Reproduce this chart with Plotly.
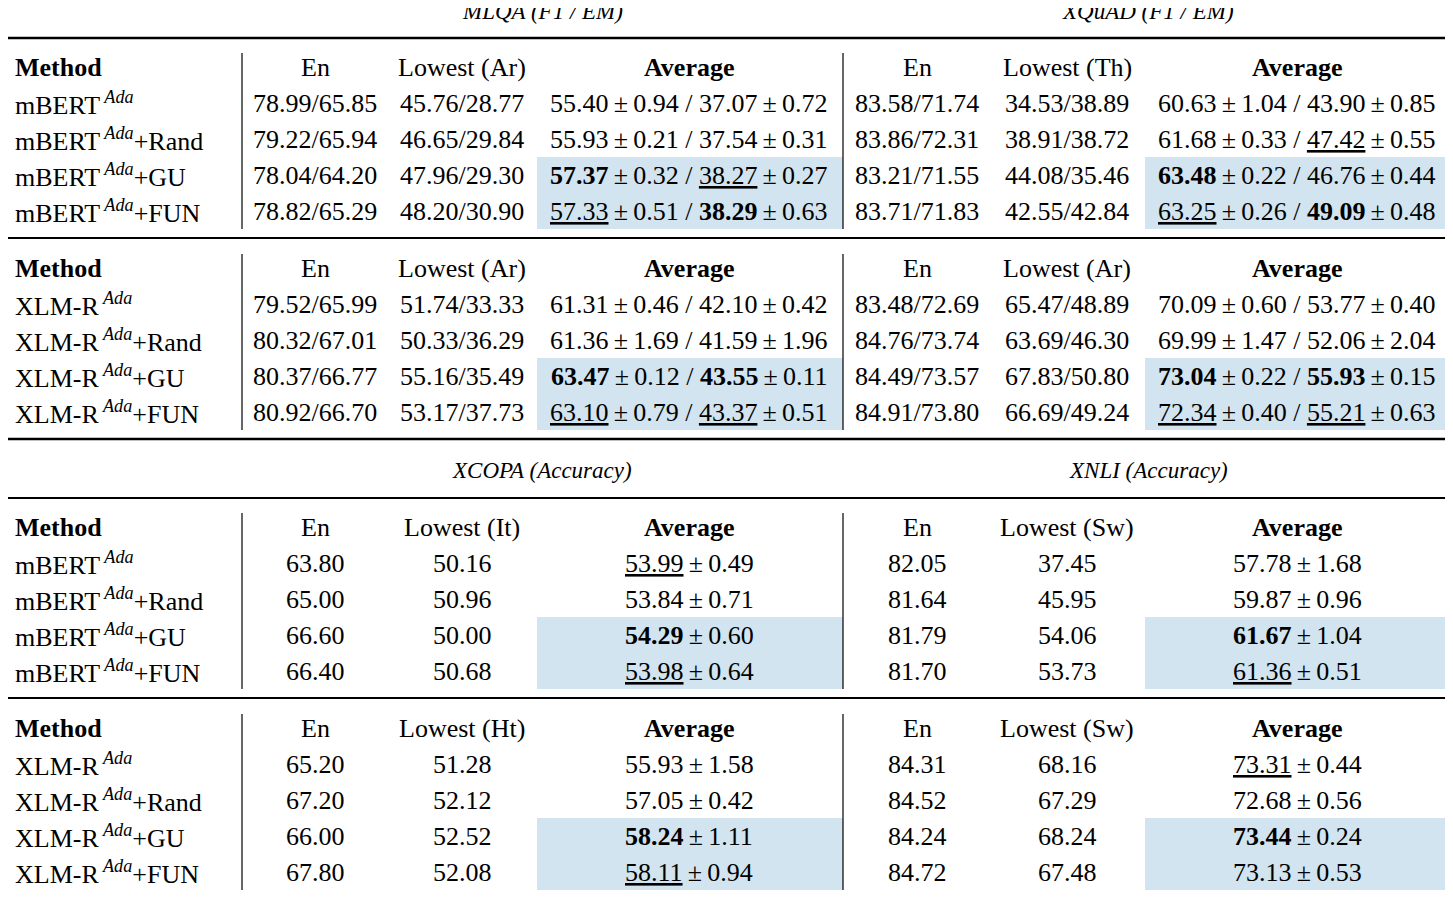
import plotly.graph_objects as go

# ---- data ----
variants = ["", "+Rand", "+GU", "+FUN"]
models = ["mBERT", "XLM-R"]

# MLQA / XQuAD (F1/EM) blocks, one per model
mlqa_en = [["78.99/65.85", "79.22/65.94", "78.04/64.20", "78.82/65.29"],
           ["79.52/65.99", "80.32/67.01", "80.37/66.77", "80.92/66.70"]]
mlqa_low = [["45.76/28.77", "46.65/29.84", "47.96/29.30", "48.20/30.90"],
            ["51.74/33.33", "50.33/36.29", "55.16/35.49", "53.17/37.73"]]
mlqa_f1 = [[(55.40, 0.94), (55.93, 0.21), (57.37, 0.32), (57.33, 0.51)],
           [(61.31, 0.46), (61.36, 1.69), (63.47, 0.12), (63.10, 0.79)]]
mlqa_em = [[(37.07, 0.72), (37.54, 0.31), (38.27, 0.27), (38.29, 0.63)],
           [(42.10, 0.42), (41.59, 1.96), (43.55, 0.11), (43.37, 0.51)]]
mlqa_low_lang = ["Ar", "Ar"]

xquad_en = [["83.58/71.74", "83.86/72.31", "83.21/71.55", "83.71/71.83"],
            ["83.48/72.69", "84.76/73.74", "84.49/73.57", "84.91/73.80"]]
xquad_low = [["34.53/38.89", "38.91/38.72", "44.08/35.46", "42.55/42.84"],
             ["65.47/48.89", "63.69/46.30", "67.83/50.80", "66.69/49.24"]]
xquad_f1 = [[(60.63, 1.04), (61.68, 0.33), (63.48, 0.22), (63.25, 0.26)],
            [(70.09, 0.60), (69.99, 1.47), (73.04, 0.22), (72.34, 0.40)]]
xquad_em = [[(43.90, 0.85), (47.42, 0.55), (46.76, 0.44), (49.09, 0.48)],
            [(53.77, 0.40), (52.06, 2.04), (55.93, 0.15), (55.21, 0.63)]]
xquad_low_lang = ["Th", "Ar"]

# XCOPA / XNLI (Accuracy)
xcopa_en = [["63.80", "65.00", "66.60", "66.40"], ["65.20", "67.20", "66.00", "67.80"]]
xcopa_low = [["50.16", "50.96", "50.00", "50.68"], ["51.28", "52.12", "52.52", "52.08"]]
xcopa_avg = [[(53.99, 0.49), (53.84, 0.71), (54.29, 0.60), (53.98, 0.64)],
             [(55.93, 1.58), (57.05, 0.42), (58.24, 1.11), (58.11, 0.94)]]
xcopa_low_lang = ["It", "Ht"]

xnli_en = [["82.05", "81.64", "81.79", "81.70"], ["84.31", "84.52", "84.24", "84.72"]]
xnli_low = [["37.45", "45.95", "54.06", "53.73"], ["68.16", "67.29", "68.24", "67.48"]]
xnli_avg = [[(57.78, 1.68), (59.87, 0.96), (61.67, 1.04), (61.36, 0.51)],
            [(73.31, 0.44), (72.68, 0.56), (73.44, 0.24), (73.13, 0.53)]]
xnli_low_lang = ["Sw", "Sw"]

# best (b) / second best (u) markers
mlqa_f1_mark = [["", "", "b", "u"], ["", "", "b", "u"]]
mlqa_em_mark = [["", "", "u", "b"], ["", "", "b", "u"]]
xquad_f1_mark = [["", "", "b", "u"], ["", "", "b", "u"]]
xquad_em_mark = [["", "u", "", "b"], ["", "", "b", "u"]]
xcopa_mark = [["u", "", "b", "u"], ["", "", "b", "u"]]
xnli_mark = [["", "", "b", "u"], ["u", "", "b", ""]]

# ---- geometry ----
W, H = 1453, 903
PAD = 8  # page body margin
FONT = "Liberation Serif"
FS = 26
col_method = 13
cols_left = [315, 462, 689]
cols_right = [917, 1067, 1297]
sep_x = [242, 843]
hl_left = (537, 843)
hl_right = (1145, 1450)
row_h = 36

fig = go.Figure()
ann = []
shapes = []


def txt(x, y, s, anchor="center", size=FS):
    ann.append(dict(x=x, y=y, text=s, showarrow=False, xanchor=anchor, yanchor="middle",
                    font=dict(family=FONT, size=size, color="black")))


def num(v, mark):
    s = f"{v:.2f}"
    if mark == "b":
        return f"<b>{s}</b>"
    if mark == "u":
        return f"<u>{s}</u>"
    return s


def avg(pair, mark):
    return f"{num(pair[0], mark)}\u2009±\u2009{pair[1]:.2f}"


def hline(y, w):
    shapes.append(dict(type="line", x0=3, x1=1450, y0=y, y1=y, line=dict(color="black", width=w)))


def block(y_head, m, left, right):
    txt(col_method, y_head, "<b>Method</b>", "left")
    for cols, (en, low, avgs, lang), hl in ((cols_left, left, hl_left), (cols_right, right, hl_right)):
        txt(cols[0], y_head, "En")
        txt(cols[1], y_head, f"Lowest ({lang})")
        txt(cols[2], y_head, "<b>Average</b>")
        shapes.append(dict(type="rect", x0=hl[0], x1=hl[1], y0=y_head + 3 * row_h - 18,
                           y1=y_head + 4 * row_h + 18, fillcolor="#d1e4ef", line=dict(width=0),
                           layer="below"))
        for i in range(4):
            y = y_head + (i + 1) * row_h
            txt(cols[0], y, en[i])
            txt(cols[1], y, low[i])
            txt(cols[2], y, avgs[i])
    for i in range(4):
        y = y_head + (i + 1) * row_h
        txt(col_method, y, f"{models[m]}<sup><i> Ada</i></sup>{variants[i]}", "left")
    for x in sep_x:
        shapes.append(dict(type="line", x0=x, x1=x, y0=y_head - 14, y1=y_head + 4 * row_h + 18,
                           line=dict(color="black", width=1.2)))


# titles
txt(542, 11, "<i>MLQA (F1 / EM)</i>", size=23)
txt(1148, 11, "<i>XQuAD (F1 / EM)</i>", size=23)
txt(542, 470, "<i>XCOPA (Accuracy)</i>", size=23)
txt(1148, 470, "<i>XNLI (Accuracy)</i>", size=23)

for m, y_head in enumerate([67, 268]):
    la = [f"{avg(mlqa_f1[m][i], mlqa_f1_mark[m][i])} / {avg(mlqa_em[m][i], mlqa_em_mark[m][i])}" for i in range(4)]
    ra = [f"{avg(xquad_f1[m][i], xquad_f1_mark[m][i])} / {avg(xquad_em[m][i], xquad_em_mark[m][i])}" for i in range(4)]
    block(y_head, m, (mlqa_en[m], mlqa_low[m], la, mlqa_low_lang[m]),
          (xquad_en[m], xquad_low[m], ra, xquad_low_lang[m]))

for m, y_head in enumerate([527, 728]):
    la = [avg(xcopa_avg[m][i], xcopa_mark[m][i]) for i in range(4)]
    ra = [avg(xnli_avg[m][i], xnli_mark[m][i]) for i in range(4)]
    block(y_head, m, (xcopa_en[m], xcopa_low[m], la, xcopa_low_lang[m]),
          (xnli_en[m], xnli_low[m], ra, xnli_low_lang[m]))

for y, w in [(38, 2.5), (238, 2), (439, 2.5), (498, 2), (698, 2), (900, 2.5)]:
    hline(y, w)

fig.update_layout(width=W - 2 * PAD, height=H - 2 * PAD, margin=dict(l=0, r=0, t=0, b=0),
                  plot_bgcolor="white", paper_bgcolor="white",
                  annotations=ann, shapes=shapes, showlegend=False,
                  xaxis=dict(range=[PAD, W - PAD], visible=False, fixedrange=True),
                  yaxis=dict(range=[H - PAD, PAD], visible=False, fixedrange=True))
fig.write_html("out.html")
